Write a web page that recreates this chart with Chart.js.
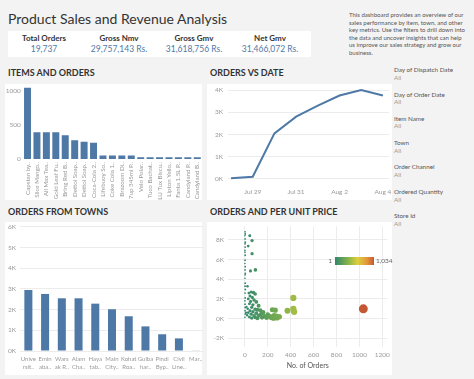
<!DOCTYPE html>
<html><head><meta charset="utf-8">
<script src="https://cdn.jsdelivr.net/npm/chart.js@4.4.0/dist/chart.umd.min.js"></script>
<style>
html,body{margin:0;padding:0}
body{width:474px;height:379px;background:#f3f3f3;font-family:Lato,"Open Sans",sans-serif;position:relative;overflow:hidden;color:#333}
.t{position:absolute;white-space:nowrap}
.panel{position:absolute;background:#fff}
canvas{position:absolute}
.sec{font-weight:700;font-size:9px;line-height:12px;color:#333}
</style></head>
<body>
<div class="t" id="title" style="left:8px;top:10px;font-size:14px;line-height:17px;color:#333">Product Sales and Revenue Analysis</div>
<div class="panel" style="left:8px;top:31px;width:303px;height:26px"></div>
<div id="kpis"></div>
<div class="t" id="desc" style="left:349px;top:11px;font-size:6px;line-height:7.6px;color:#555"></div>
<div id="filters"></div>

<div class="panel" style="left:5px;top:84px;width:197px;height:116px"></div>
<div class="panel" style="left:207px;top:84px;width:185px;height:116px"></div>
<div class="panel" style="left:5px;top:222px;width:197px;height:153px"></div>
<div class="panel" style="left:207px;top:222px;width:185px;height:153px"></div>

<div class="t sec" style="left:8px;top:67px">ITEMS AND ORDERS</div>
<div class="t sec" style="left:210px;top:67px">ORDERS VS DATE</div>
<div class="t sec" style="left:8px;top:206px">ORDERS FROM TOWNS</div>
<div class="t sec" style="left:210px;top:206px">ORDERS AND PER UNIT PRICE</div>

<canvas id="c1" width="197" height="116" style="left:5px;top:84px"></canvas>
<canvas id="c2" width="185" height="116" style="left:207px;top:84px"></canvas>
<canvas id="c3" width="199" height="152" style="left:5px;top:222px"></canvas>
<canvas id="c4" width="185" height="152" style="left:207px;top:222px"></canvas>

<div id="legbar" style="position:absolute;left:335px;top:257px;width:39px;height:8px"></div>
<div class="t" style="left:326px;top:257px;width:6px;text-align:right;font-size:6.5px;line-height:8px;color:#666">1</div>
<div class="t" style="left:376px;top:257px;font-size:6.5px;line-height:8px;color:#666">1,034</div>

<script>
// ---------- DATA ----------
const kpiLabels = ['Total Orders','Gross Nmv','Gross Gmv','Net Gmv'];
const kpiValues = ['19,737','29,757,143 Rs.','31,618,756 Rs.','31,466,072 Rs.'];
const descLines = ['This dashboard provides an overview of our','sales performance by item, town, and other','key metrics. Use the filters to drill down into','the data and uncover insights that can help','us improve our sales strategy and grow our','business.'];
const filterNames = ['Day of Dispatch Date','Day of Order Date','Item Name','Town','Order Channel','Ordered Quantity','Store Id'];
const filterValues = ['All','All','All','All','All','All','All'];

const itemNames = ['Capstan by..','Slice Mango..','All Max Tea..','Gold Leaf Fu..','Bring Red B..','Dettol Soap..','Dettol Soap..','Coca-Cola 2..','Lifebuoy So..','Coke Cola 1..','Brazoom Di..','7up 345ml P..','Velo Polar..','Tuco Bachat..','LU Tux Biscu..','Lipton Yello..','Fanta 1.5L P..','Candyland P..','Candyland B..'];
const itemOrders = [1050, 395, 395, 395, 350, 275, 255, 240, 52, 50, 50, 50, 27, 27, 27, 27, 27, 27, 27];
const itemTicks = [0, 500, 1000];

const dateLabels = ['Jul 28','Jul 29','Jul 30','Jul 31','Aug 1','Aug 2','Aug 3','Aug 4'];
const dateOrders = [30, 100, 2050, 2800, 3300, 3750, 4000, 3750];
const dateTicks = [0, 1000, 2000, 3000, 4000];

const townLabels = [['Unive','rsit..'],['Emin','aba..'],['Wars','ak R..'],['Alam','Cha..'],['Haya','tab..'],['Main','City..'],['Kohat','Roa..'],['Gulba','har..'],['Pindi','Byp..'],['Civil','Line..'],['Mar..','']];
const townOrders = [2950, 2760, 2550, 2550, 2290, 2020, 1680, 1190, 810, 610, 30];
const townTicks = [0,1000,2000,3000,4000,5000,6000];

const scatterOrders = [2,3,1,2,4,2,3,1,2,3,2,1,3,2,4,2,1,3,2,4,2,3,1,2,3,2,4,1,
  43,63,29,63,49,92,23,
  35,55,75,90,45,65,30,80,50,100,40,70,120,60,25,90,110,135,45,70,160,30,100,55,140,200,20,80,120,170,220,260,300,40,90,150,190,230,280,60,110,250,240,265,255,275,15,10,
  372,423,423,430,1034];
const scatterPrice = [8830,8600,8430,8100,7770,7600,7270,6940,6770,6440,5940,5600,5280,4950,4600,4450,4100,3600,3300,2960,2600,2100,1800,1460,1130,800,470,130,
  8430,7940,7370,6600,4850,4950,3290,
  2600,2700,2650,2500,2300,2150,2000,1900,1750,1700,1500,1400,1300,1150,1000,950,900,850,800,700,650,600,550,450,450,400,350,300,280,250,220,200,180,150,120,100,90,80,70,50,40,30,900,850,300,250,1200,600,
  800,2100,990,690,990];
const scatterXTicks = [0,200,400,600,800,1000,1200];
const scatterYTicks = [-2000,0,2000,4000,6000,8000];
const colorMin = 1, colorMax = 1034;

// ---------- TEXT BLOCKS ----------
const kpiCenters = [44,119,194,270];
let kh = '';
kpiLabels.forEach((l,i)=>{
  kh += `<div class="t" style="left:${kpiCenters[i]-45}px;width:90px;text-align:center;top:33px;font-size:8px;line-height:10px;font-weight:700;color:#333">${l}</div>`;
  kh += `<div class="t" style="left:${kpiCenters[i]-45}px;width:90px;text-align:center;top:44px;font-size:8.5px;line-height:10px;color:#4e79a7">${kpiValues[i]}</div>`;
});
document.getElementById('kpis').innerHTML = kh;
document.getElementById('desc').innerHTML = descLines.join('<br>');
const fCenters = [70,94.5,118.5,143,167,192,216];
let fh='';
filterNames.forEach((n,i)=>{
  fh += `<div class="t" style="left:394px;top:${fCenters[i]-4}px;font-size:6.3px;line-height:8px;color:#555">${n}</div>`;
  fh += `<div class="t" style="left:394px;top:${fCenters[i]+3.5}px;font-size:6.3px;line-height:8px;color:#999">${filterValues[i]}</div>`;
});
document.getElementById('filters').innerHTML = fh;

// ---------- COLOR SCALE ----------
const stops = [[0,[47,135,108]],[0.35,[140,180,72]],[0.58,[220,208,60]],[0.82,[226,150,60]],[1,[197,88,52]]];
function colorFor(v){
  const t = Math.max(0,Math.min(1,(v-colorMin)/(colorMax-colorMin)));
  for(let i=1;i<stops.length;i++){
    if(t<=stops[i][0]){
      const a=stops[i-1], b=stops[i], f=(t-a[0])/(b[0]-a[0]);
      const c=a[1].map((x,k)=>Math.round(x+(b[1][k]-x)*f));
      return `rgb(${c[0]},${c[1]},${c[2]})`;
    }
  }
  return 'rgb(197,88,52)';
}
document.getElementById('legbar').style.background = 'linear-gradient(to right,' + stops.map(s=>`rgb(${s[1].join(',')}) ${s[0]*100}%`).join(',') + ')';

// ---------- CHARTS ----------
const TICK = {family:'Lato', size:6.5};
const TC = '#999';
const BLUE = '#4e79a7';
const GRID = '#ececec';
function yW(w){ return s=>{ s.width=w; s.paddingTop=0; s.paddingBottom=0; }; }
function xH(h){ return s=>{ s.height=h; s.paddingLeft=0; s.paddingRight=0; }; }
function only(list){ return s=>{ s.ticks = list.map(v=>({value:v})); }; }
const kfmt = v => (v/1000)+'K';
const plain = v => String(v);
const base = {responsive:false, animation:false, devicePixelRatio:1,
  plugins:{legend:{display:false}, tooltip:{enabled:false}}};

new Chart(document.getElementById('c1'), {
  type:'bar',
  data:{labels:itemNames, datasets:[{data:itemOrders, backgroundColor:BLUE, barPercentage:0.74, categoryPercentage:1}]},
  options:{...base, layout:{padding:{top:2,right:0,left:0,bottom:0}},
    scales:{
      x:{grid:{display:false,drawTicks:false}, border:{display:false},
         ticks:{font:{family:'Lato',size:6.2}, color:TC, minRotation:90, maxRotation:90, autoSkip:false, padding:3},
         afterFit:xH(41)},
      y:{min:0, max:1074, grid:{display:false,drawTicks:false}, border:{display:false},
         afterBuildTicks:only(itemTicks),
         ticks:{font:TICK, color:TC, padding:2, callback:plain}, afterFit:yW(17.8)}
    }}
});

new Chart(document.getElementById('c2'), {
  type:'line',
  data:{datasets:[{data:dateOrders.map((v,i)=>({x:i,y:v})), borderColor:BLUE, borderWidth:2, pointRadius:0, tension:0}]},
  options:{...base, layout:{padding:{top:2,right:3,left:0,bottom:0}},
    scales:{
      x:{type:'linear', min:-0.14, max:7.28, grid:{display:false,drawTicks:false}, border:{display:false},
         afterBuildTicks:only([1,3,5,7]),
         ticks:{font:TICK, color:TC, padding:3, callback:v=>dateLabels[v]}, afterFit:xH(15)},
      y:{min:-270, max:4180, grid:{color:GRID,drawTicks:false}, border:{display:false},
         afterBuildTicks:only(dateTicks),
         ticks:{font:TICK, color:TC, padding:5, callback:kfmt}, afterFit:yW(21)}
    }}
});

new Chart(document.getElementById('c3'), {
  type:'bar',
  data:{labels:townLabels, datasets:[{data:townOrders, backgroundColor:BLUE, barPercentage:0.48, categoryPercentage:1}]},
  options:{...base, layout:{padding:{top:0,right:0,left:0,bottom:0}},
    scales:{
      x:{grid:{display:false,drawTicks:false}, border:{display:false},
         ticks:{font:{family:'Lato',size:6,lineHeight:1.45}, color:TC, maxRotation:0, autoSkip:false, padding:3.5},
         afterFit:xH(23)},
      y:{min:0, max:6240, grid:{color:GRID,drawTicks:false}, border:{display:false},
         afterBuildTicks:only(townTicks),
         ticks:{font:TICK, color:TC, padding:4, callback:kfmt}, afterFit:yW(15)}
    }}
});

const pts = scatterOrders.map((x,i)=>({x:x, y:scatterPrice[i]}));
new Chart(document.getElementById('c4'), {
  type:'scatter',
  data:{datasets:[{data:pts,
    backgroundColor:scatterOrders.map(colorFor),
    borderColor:scatterOrders.map(colorFor),
    borderWidth:0,
    pointRadius:scatterOrders.map(v=>0.7+3.8*Math.sqrt(v/colorMax))}]},
  options:{...base, layout:{padding:{top:2,right:3,left:0,bottom:0}},
    scales:{
      x:{type:'linear', min:-147, max:1245, grid:{color:GRID,drawTicks:false}, border:{display:false},
         afterBuildTicks:only(scatterXTicks),
         title:{display:true, text:'No. of Orders', color:'#555', font:{family:'Lato',size:7}, padding:{top:2,bottom:4}},
         ticks:{font:TICK, color:TC, padding:4.5, callback:plain}, afterFit:xH(27)},
      y:{min:-2888, max:9365, grid:{color:GRID,drawTicks:false}, border:{display:false},
         afterBuildTicks:only(scatterYTicks),
         ticks:{font:TICK, color:TC, padding:4, callback:kfmt}, afterFit:yW(21)}
    }}
});
</script>
</body></html>
